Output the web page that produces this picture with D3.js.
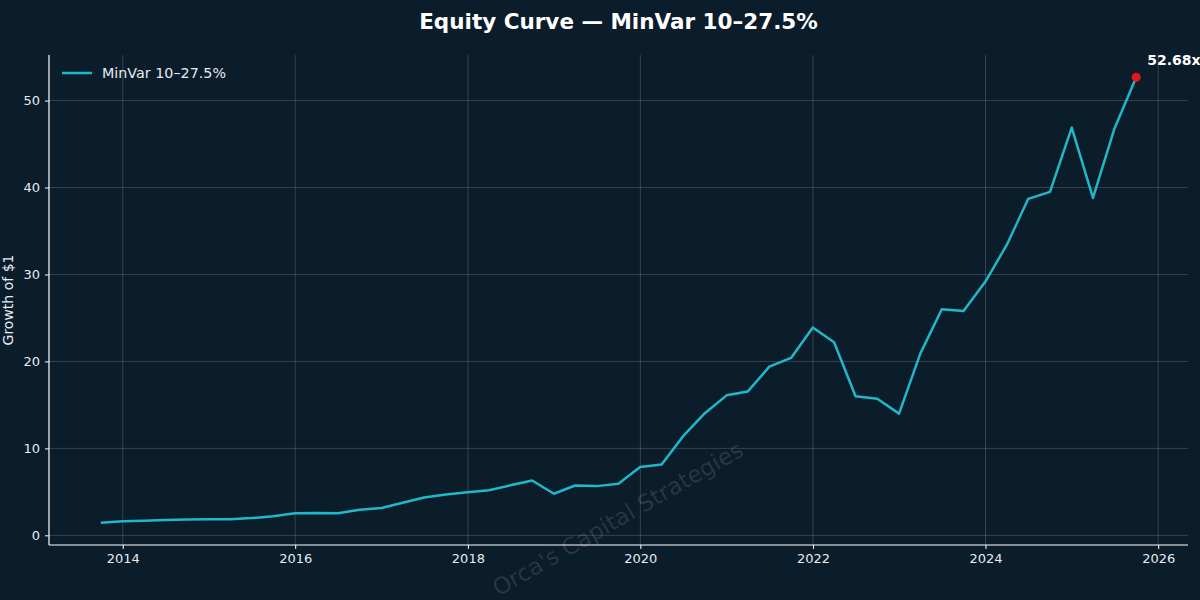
<!DOCTYPE html>
<html lang="en">
<head>
<meta charset="UTF-8">
<title>Equity Curve — MinVar 10–27.5%</title>
<script src="https://d3js.org/d3.v7.min.js"></script>
<style>
  html, body { margin: 0; padding: 0; background: #0b1c2b; }
  svg { display: block; font-family: "DejaVu Sans", sans-serif; }
</style>
</head>
<body>
<div id="chart"></div>
<script>
// quarter-end dates and growth of $1
const dates = [
  "2013-09-30", "2013-12-31",
  "2014-03-31", "2014-06-30", "2014-09-30", "2014-12-31",
  "2015-03-31", "2015-06-30", "2015-09-30", "2015-12-31",
  "2016-03-31", "2016-06-30", "2016-09-30", "2016-12-31",
  "2017-03-31", "2017-06-30", "2017-09-30", "2017-12-31",
  "2018-03-31", "2018-06-30", "2018-09-30", "2018-12-31",
  "2019-03-31", "2019-06-30", "2019-09-30", "2019-12-31",
  "2020-03-31", "2020-06-30", "2020-09-30", "2020-12-31",
  "2021-03-31", "2021-06-30", "2021-09-30", "2021-12-31",
  "2022-03-31", "2022-06-30", "2022-09-30", "2022-12-31",
  "2023-03-31", "2023-06-30", "2023-09-30", "2023-12-31",
  "2024-03-31", "2024-06-30", "2024-09-30", "2024-12-31",
  "2025-03-31", "2025-06-30", "2025-09-30"
];
const equity = [
  1.45, 1.62,
  1.68, 1.75, 1.82, 1.85,
  1.85, 1.98, 2.20, 2.55,
  2.58, 2.55, 2.95, 3.15,
  3.75, 4.35, 4.70, 4.95,
  5.18, 5.75, 6.30, 4.78,
  5.73, 5.66, 5.92, 7.85,
  8.15, 11.40, 14.05, 16.10,
  16.55, 19.40, 20.40, 23.90,
  22.20, 16.00, 15.70, 14.00,
  20.90, 26.00, 25.80, 29.15,
  33.40, 38.70, 39.50, 46.90,
  38.80, 46.80, 52.68
];
const yTicks = [0, 10, 20, 30, 40, 50];
const xTickYears = [2014, 2016, 2018, 2020, 2022, 2024, 2026];
const seriesName = "MinVar 10–27.5%";

const W = 1200, H = 600;
const m = { left: 49, right: 12, top: 55, bottom: 55 };

const parse = d3.timeParse("%Y-%m-%d");
const data = dates.map((d, i) => ({ date: parse(d), v: equity[i] }));

const svg = d3.select("#chart").append("svg")
  .attr("width", W).attr("height", H);

svg.append("rect").attr("width", W).attr("height", H).attr("fill", "#0b1c2b");

// matplotlib-like 5% margins
const xExt = d3.extent(data, d => d.date);
const span = xExt[1] - xExt[0];
const x = d3.scaleTime()
  .domain([new Date(+xExt[0] - span * 0.05), new Date(+xExt[1] + span * 0.05)])
  .range([m.left, W - m.right]);
const yExt = d3.extent(equity);
const yPad = (yExt[1] - yExt[0]) * 0.05;
const y = d3.scaleLinear()
  .domain([yExt[0] - yPad, yExt[1] + yPad])
  .range([H - m.bottom, m.top]);

const xTicks = xTickYears.map(yr => new Date(yr, 0, 1));

// grid
const grid = svg.append("g").attr("stroke", "#ffffff").attr("stroke-opacity", 0.22).attr("stroke-width", 0.8);
grid.selectAll(".gx").data(xTicks).join("line")
  .attr("x1", d => x(d)).attr("x2", d => x(d))
  .attr("y1", m.top).attr("y2", H - m.bottom);
grid.selectAll(".gy").data(yTicks).join("line")
  .attr("x1", m.left).attr("x2", W - m.right)
  .attr("y1", d => y(d)).attr("y2", d => y(d));

// watermark
svg.append("text")
  .attr("transform", `translate(${(m.left + W - m.right) / 2},${520}) rotate(-30)`)
  .attr("text-anchor", "middle").attr("dominant-baseline", "middle")
  .attr("font-size", 23).attr("fill", "#ffffff").attr("fill-opacity", 0.12)
  .text("Orca's Capital Strategies");

// axes
const xAxis = svg.append("g")
  .attr("transform", `translate(0,${H - m.bottom})`)
  .call(d3.axisBottom(x).tickValues(xTicks).tickFormat(d3.timeFormat("%Y")).tickSizeOuter(0).tickSize(4).tickPadding(5));
const yAxis = svg.append("g")
  .attr("transform", `translate(${m.left},0)`)
  .call(d3.axisLeft(y).tickValues(yTicks).tickSizeOuter(0).tickSize(4).tickPadding(5));
[xAxis, yAxis].forEach(a => {
  a.select(".domain").attr("stroke", "#ffffff").attr("stroke-width", 1.2);
  a.selectAll(".tick line").attr("stroke", "#ffffff");
  a.selectAll(".tick text").attr("fill", "#e6ebef").attr("font-size", 13)
    .attr("font-family", "DejaVu Sans, sans-serif");
});
// extend x domain line to full axis width
xAxis.select(".domain").attr("d", `M${m.left},0H${W - m.right}`);
yAxis.select(".domain").attr("d", `M0,${m.top}V${H - m.bottom}`);

// line
const line = d3.line().x(d => x(d.date)).y(d => y(d.v));
svg.append("path").datum(data)
  .attr("d", line)
  .attr("fill", "none")
  .attr("stroke", "#1fb8c8")
  .attr("stroke-width", 2.5)
  .attr("stroke-linejoin", "round");

// last point marker + label
const last = data[data.length - 1];
svg.append("circle")
  .attr("cx", x(last.date)).attr("cy", y(last.v)).attr("r", 4.5)
  .attr("fill", "#e0191c");
svg.append("text")
  .attr("x", x(last.date) + 11).attr("y", y(last.v) - 12)
  .attr("fill", "#ffffff").attr("font-weight", "bold").attr("font-size", 14)
  .text(last.v.toFixed(2) + "x");

// legend
const lg = svg.append("g").attr("transform", `translate(62,73)`);
lg.append("line").attr("x1", 0).attr("x2", 30).attr("y1", 0).attr("y2", 0)
  .attr("stroke", "#1fb8c8").attr("stroke-width", 2.5);
lg.append("text").attr("x", 40).attr("y", 0).attr("dy", "0.35em")
  .attr("fill", "#e6ebef").attr("font-size", 14.3).text(seriesName);

// title
svg.append("text")
  .attr("x", (m.left + W - m.right) / 2).attr("y", 29)
  .attr("text-anchor", "middle").attr("fill", "#ffffff")
  .attr("font-weight", "bold").attr("font-size", 21.5)
  .text("Equity Curve — MinVar 10–27.5%");

// y label
svg.append("text")
  .attr("transform", `translate(13,${(m.top + H - m.bottom) / 2}) rotate(-90)`)
  .attr("text-anchor", "middle").attr("fill", "#e6ebef").attr("font-size", 14)
  .text("Growth of $1");
</script>
</body>
</html>
